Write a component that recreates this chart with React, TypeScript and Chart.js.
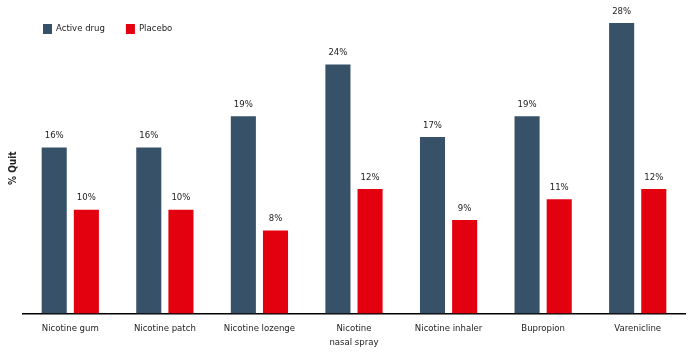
import React, { useEffect, useRef } from "react";
import { Chart, registerables } from "chart.js";

Chart.register(...registerables);

const categories: (string | string[])[] = [
  "Nicotine gum",
  "Nicotine patch",
  "Nicotine lozenge",
  ["Nicotine", "nasal spray"],
  "Nicotine inhaler",
  "Bupropion",
  "Varenicline",
];
const activeDrug = [16, 16, 19, 24, 17, 19, 28];
const placebo = [10, 10, 8, 12, 9, 11, 12];
const seriesNames = ["Active drug", "Placebo"];
const colors = ["#375169", "#e3000f"];
const yTitle = "% Quit";

const FONT = "'Liberation Sans Narrow', 'DejaVu Sans Condensed', 'Roboto Condensed', Arial, sans-serif";

const labelPlugin = {
  id: "barLabels",
  afterDatasetsDraw(chart: any) {
    const ctx = chart.ctx;
    ctx.save();
    ctx.font = `9.5px ${FONT}`;
    ctx.fillStyle = "#222";
    ctx.textAlign = "center";
    ctx.textBaseline = "bottom";
    chart.data.datasets.forEach((ds: any, i: number) => {
      const meta = chart.getDatasetMeta(i);
      meta.data.forEach((bar: any, j: number) => {
        ctx.fillText(`${ds.data[j]}%`, bar.x, bar.y - 7);
      });
    });
    ctx.restore();
  },
};

const legendPlugin = {
  id: "customLegend",
  afterDraw(chart: any) {
    const ctx = chart.ctx;
    ctx.save();
    ctx.font = `9.5px ${FONT}`;
    ctx.textBaseline = "middle";
    ctx.textAlign = "left";
    let x = chart.chartArea.left + 20;
    const y = 29;
    chart.data.datasets.forEach((ds: any) => {
      ctx.fillStyle = ds.backgroundColor;
      ctx.fillRect(x, y - 5, 9, 10);
      ctx.fillStyle = "#222";
      ctx.fillText(ds.label, x + 13, y);
      x += 13 + ctx.measureText(ds.label).width + 21;
    });
    ctx.restore();
  },
};

export default function App() {
  const ref = useRef<HTMLCanvasElement>(null);
  useEffect(() => {
    document.body.style.margin = "0";
    const chart = new Chart(ref.current!, {
      type: "bar",
      data: {
        labels: categories,
        datasets: [
          { label: seriesNames[0], data: activeDrug, backgroundColor: colors[0] },
          { label: seriesNames[1], data: placebo, backgroundColor: colors[1] },
        ],
      },
      options: {
        animation: false,
        responsive: false,
        maintainAspectRatio: false,
        datasets: { bar: { categoryPercentage: 0.68, barPercentage: 0.78 } },
        layout: { padding: { left: 3, right: 6, top: 23, bottom: -5 } },
        plugins: { legend: { display: false }, tooltip: { enabled: false } },
        scales: {
          x: {
            grid: { display: false, drawTicks: false },
            border: { display: true, color: "#000", width: 1.5 },
            ticks: { color: "#222", font: { family: FONT, size: 9.5, lineHeight: 1.45 }, padding: 8, maxRotation: 0, autoSkip: false },
          },
          y: {
            min: 0,
            max: 28,
            grid: { display: false, drawTicks: false },
            border: { display: false },
            ticks: { display: false },
            title: { display: true, text: yTitle, color: "#222", font: { family: FONT, size: 10, weight: "bold" }, padding: { top: 4, bottom: 4 } },
          },
        },
      },
      plugins: [labelPlugin, legendPlugin],
    });
    return () => chart.destroy();
  }, []);
  return (
    <div style={{ width: 691, height: 352, background: "#fff" }}>
      <canvas ref={ref} width={691} height={352} style={{ display: "block" }} />
    </div>
  );
}
